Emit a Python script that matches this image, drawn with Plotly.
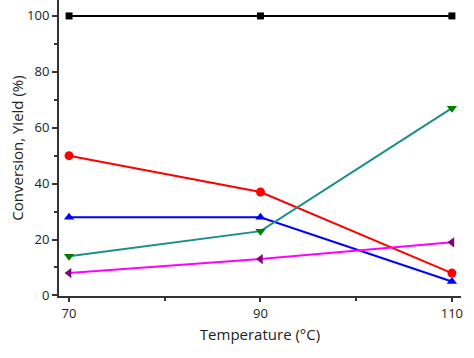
import plotly.graph_objects as go

temperature = [70, 90, 110]
conversion = [100, 100, 100]
red_series = [50, 37, 8]
blue_series = [28, 28, 5]
green_series = [14, 23, 67]
magenta_series = [8, 13, 19]

x_ticks = [70, 90, 110]
y_ticks = [0, 20, 40, 60, 80, 100]

fig = go.Figure()

def add(y, line_color, marker_color, symbol, size=8):
    fig.add_trace(go.Scatter(
        x=temperature, y=y, mode="lines+markers",
        line=dict(color=line_color, width=2),
        marker=dict(color=marker_color, symbol=symbol, size=size),
        showlegend=False, cliponaxis=False))

add(conversion, "black", "black", "square", 7)
add(red_series, "#ff0000", "#ff0000", "circle", 9)
add(blue_series, "#0000ff", "#0000ff", "triangle-up", 9)
add(green_series, "#1a8f8a", "#008000", "triangle-down", 9)
add(magenta_series, "#ff00ff", "#800080", "triangle-left", 9)

fig.update_layout(
    width=474, height=358,
    margin=dict(l=59, r=13, t=0, b=62),
    paper_bgcolor="white", plot_bgcolor="white",
    font=dict(family="Open Sans", size=13, color="#222"),
    xaxis=dict(
        range=[68.95, 110.95], tickvals=x_ticks, showgrid=False, zeroline=False,
        showline=True, linecolor="#333", linewidth=2, automargin=False,
        ticks="outside", ticklen=4, tickwidth=1.5, tickcolor="#333",
        minor=dict(tickvals=[80, 100], ticks="outside", ticklen=3, tickcolor="#333"),
        title=dict(text="Temperature (°C)", font=dict(size=15), standoff=9),
    ),
    yaxis=dict(
        range=[-0.2, 105.7], tickvals=y_ticks, showgrid=False, zeroline=False,
        showline=True, linecolor="#333", linewidth=2, automargin=False,
        ticks="outside", ticklen=5, tickwidth=1.5, tickcolor="#333",
        minor=dict(tickvals=[10, 30, 50, 70, 90], ticks="outside", ticklen=3, tickcolor="#333"),
        title=dict(text="Conversion, Yield (%)", font=dict(size=15), standoff=0),
    ),
)

fig.write_html("out.html", config={"displayModeBar": False},
               post_script="document.body.style.margin='0';")
